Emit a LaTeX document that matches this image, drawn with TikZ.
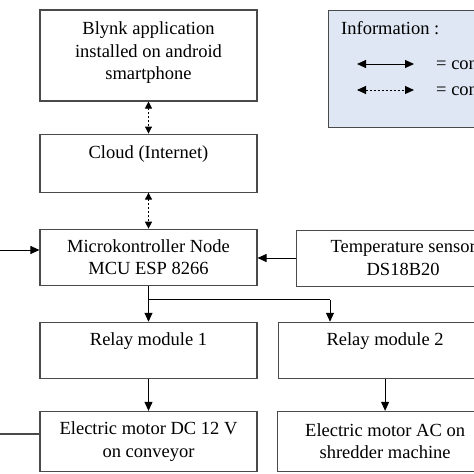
\documentclass[tikz,border=0pt]{standalone}
\usepackage{fontspec}
\setmainfont{Liberation Serif}
\usepackage{tikz}
\usetikzlibrary{calc, arrows.meta, positioning}
\definecolor{lineGray}{HTML}{4A4A4A}
\definecolor{infoBlue}{RGB}{222,231,243}

\begin{document}
\begin{tikzpicture}[
        x=1pt, y=-1pt,
        node distance = 32pt and 20pt,
        box/.style = {draw=lineGray, rectangle, minimum width=217pt, minimum height=56pt, align=center, font=\fontsize{18.5}{22.5}\selectfont, line width=1.1pt, inner sep=4pt},
        arrow/.style = {draw=black, -{Triangle[length=9pt, width=8pt]}, line width=0.9pt},
        wireless/.style = {draw=black, {Triangle[length=7pt, width=7pt]}-{Triangle[length=7pt, width=7pt]}, line width=0.9pt, dash pattern=on 2pt off 2pt}
    ]
        \clip (0,0) rectangle (474,474);
        \fill[white] (0,0) rectangle (474,474);

        % Legend
        \node (info) [draw=lineGray, fill=infoBlue, line width=1.1pt, minimum width=180pt, minimum height=117pt, anchor=north west, inner sep=0pt] at (328,10) {};
        \node (infoTitle) [anchor=west, font=\fontsize{18.5}{22.5}\selectfont, inner sep=0pt] at (341,28) {Information :};
        \coordinate (solidA) at (357,64);
        \coordinate (solidB) at (414,64);
        \coordinate (dashA) at (357,90);
        \coordinate (dashB) at (414,90);
        \draw [draw=black, {Triangle[length=9pt, width=8pt]}-{Triangle[length=9pt, width=8pt]}, line width=0.9pt] (solidA) -- (solidB);
        \draw [draw=black, {Triangle[length=9pt, width=8pt]}-{Triangle[length=9pt, width=8pt]}, line width=0.9pt, dash pattern=on 2pt off 2pt] (dashA) -- (dashB);
        \node (solidText) [anchor=west, font=\fontsize{18.5}{22.5}\selectfont, inner sep=0pt] at (436,63) {= connection};
        \node (dashText) [anchor=west, font=\fontsize{18.5}{22.5}\selectfont, inner sep=0pt] at (436,89) {= connection};

        % Main column
        \node (blynk) [box, minimum height=91pt] at (148.5,55.5) {Blynk application\\installed on android\\smartphone\\[-13.5pt]{}};
        \node (cloud) [box, minimum height=58pt, below=32pt of blynk] {Cloud (Internet)\\{}};
        \node (mcu) [box, below=36pt of cloud] {Microkontroller Node\\MCU ESP 8266};
        \node (relayA) [box, below=36pt of mcu] {Relay module 1\\{}};
        \node (motorA) [box, minimum height=60pt, below=32pt of relayA] {Electric motor DC 12 V\\on conveyor};

        % Right column
        \node (temp) [box, minimum width=214pt, right=38pt of mcu, yshift=-1pt] {Temperature sensor\\DS18B20};
        \node (relayB) [box, minimum width=214pt, right=20pt of relayA] {Relay module 2\\{}};
        \node (motorB) [box, minimum width=216pt, minimum height=60pt, right=19pt of motorA] {Electric motor AC on\\shredder machine};

        % Arrows
        \draw [wireless] (blynk.south) -- (cloud.north);
        \draw [wireless] (cloud.south) -- (mcu.north);

        \coordinate (inMcu) at (0,250);
        \draw [arrow] (inMcu) -- (inMcu -| mcu.west);
        \coordinate (inMotor) at (0,434);
        \draw [draw=lineGray, line width=1.1pt] (inMotor) -- (inMotor -| motorA.west);

        \draw [arrow] (temp.west |- 0,258) -- (mcu.east |- 0,258);

        \coordinate (split) at ($(mcu.south) + (0,14)$);
        \coordinate (splitRight) at (split -| 330,0);
        \draw [arrow] (mcu.south) -- (relayA.north);
        \draw [draw=black, line width=0.9pt] (split) -- (splitRight);
        \draw [arrow] (splitRight) -- (splitRight |- relayB.north);

        \draw [arrow] (relayA) -- (motorA);
        \draw [arrow] (relayB) -- (motorB);

    \end{tikzpicture}
\end{document}
